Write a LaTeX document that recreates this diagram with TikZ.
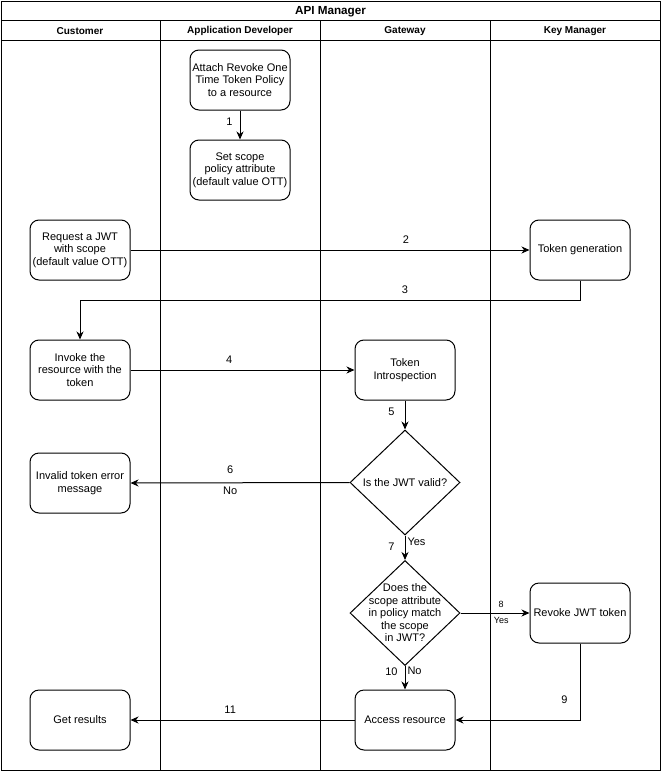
\documentclass[tikz,border=0pt]{standalone}
\usepackage{fontspec}
\setmainfont{Liberation Sans}
\usetikzlibrary{arrows.meta,shapes.geometric}

\begin{document}
\begin{tikzpicture}[x=1pt,y=-1pt,line width=1pt,
  box/.style={draw,rounded corners=9pt,minimum width=100pt,minimum height=60pt,align=center,inner sep=1pt,font=\fontsize{11}{12.5}\selectfont},
  choice/.style={draw,diamond,inner sep=0pt,minimum width=110pt,minimum height=105pt},
  lbl/.style={font=\fontsize{11}{12.5}\selectfont,inner sep=2pt},
  small/.style={font=\fontsize{9}{10}\selectfont,inner sep=2pt},
  flow/.style={-{Stealth[length=8pt,width=7pt,inset=2.5pt]}}]
\useasboundingbox (0,0) rectangle (661,771);

% pool and lanes
\draw (1,1) rectangle (660,770);
\draw (1,20) -- (660,20);
\draw (1,40) -- (660,40);
\draw (160,20) -- (160,770);
\draw (320,20) -- (320,770);
\draw (490,20) -- (490,770);
\node[font=\bfseries\fontsize{11.7}{13}\selectfont] (pool) at (330.5,11.5) {API Manager};
\node[font=\bfseries\fontsize{10}{12}\selectfont] (customer) at (80,31) {Customer};
\node[font=\bfseries\fontsize{10}{12}\selectfont] (appdev) at (240,31) {Application Developer};
\node[font=\bfseries\fontsize{10}{12}\selectfont] (gateway) at (405,31) {Gateway};
\node[font=\bfseries\fontsize{10}{12}\selectfont] (keymgr) at (575,31) {Key Manager};

% steps
\node[box] (attach) at (240,80) {Attach Revoke One\\Time Token Policy\\to a resource};
\node[box] (setscope) at (240,170) {Set scope\\policy attribute\\(default value OTT)};
\node[box] (request) at (80,250) {Request a JWT\\with scope\\(default value OTT)};
\node[box] (tokengen) at (580,250) {Token generation};
\node[box] (invoke) at (80,370) {Invoke the\\resource with the\\token};
\node[box] (intro) at (405,370) {Token\\Introspection};
\node[choice,label={[lbl,align=center]center:Is the JWT valid?}] (valid) at (405,482.5) {};
\node[box] (invalid) at (80,483) {Invalid token error\\message};
\node[choice,label={[lbl,align=center]center:Does the\\scope attribute\\in policy match\\the scope\\in JWT?}] (match) at (405,613) {};
\node[box] (revoke) at (580,613) {Revoke JWT token};
\node[box] (results) at (80,720) {Get results};
\node[box] (access) at (405,720) {Access resource};

% connectors
\draw[flow] (attach) -- node[lbl,left=5pt,pos=0.4] {1} (setscope);
\draw[flow] (request) -- node[lbl,above=4pt,pos=0.69] {2} (tokengen);
\draw[flow] (tokengen.south) -- ++(0,20) -| node[lbl,above=4pt,pos=0.175] {3} (invoke.north);
\draw[flow] (invoke) -- node[lbl,above=4pt,pos=0.44] {4} (intro);
\draw[flow] (intro) -- node[lbl,left=8pt,pos=0.4] {5} (valid.north);
\draw[flow] (valid.west) -- node[lbl,above=7pt,pos=0.545] {6} node[lbl,below=2pt,pos=0.545] {No} (invalid.east);
\draw[flow] (valid.south) -- node[lbl,left=8pt,pos=0.45] {7} node[lbl,right,pos=0.25] {Yes} (match.north);
\draw[flow] (match.east) -- node[small,above=3pt,pos=0.59] {8} node[small,below=2pt,pos=0.59] {Yes} (revoke.west);
\draw[flow] (revoke.south) |- node[lbl,left=10pt,pos=0.37] {9} (access.east);
\draw[flow] (match.south) -- node[lbl,left=5pt,pos=0.25] {10} node[lbl,right,pos=0.2] {No} (access.north);
\draw[flow] (access) -- node[lbl,above=4pt,pos=0.555] {11} (results);
\end{tikzpicture}
\end{document}
